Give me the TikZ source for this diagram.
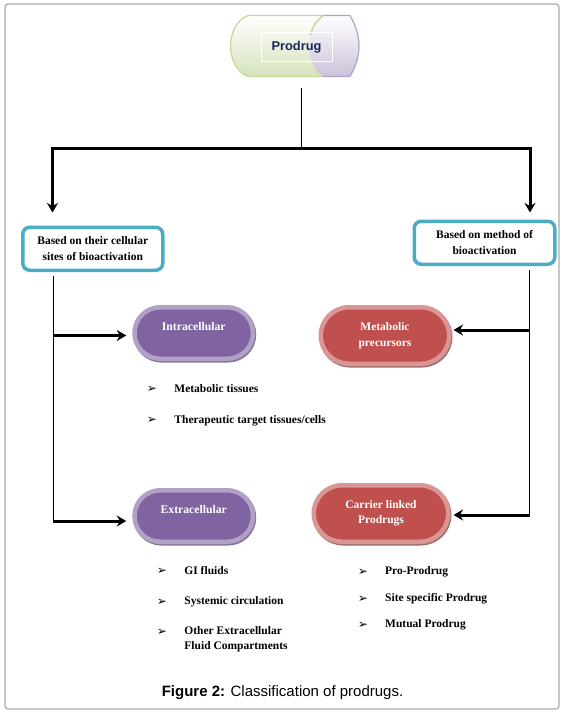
\documentclass[tikz,border=0pt]{standalone}
\usepackage{fontspec}
\setmainfont{Liberation Serif}
\newfontfamily\capfont{Liberation Sans}
\newfontfamily\dingfont{DejaVu Sans}
\usetikzlibrary{arrows.meta,positioning,shapes.misc,calc}
\definecolor{rxFrame}{RGB}{170,170,170}
\definecolor{rxTeal}{RGB}{75,172,198}
\definecolor{rxPurple}{RGB}{128,100,162}
\definecolor{rxPurpleEdge}{RGB}{178,161,199}
\definecolor{rxPurpleShade}{RGB}{134,118,150}
\definecolor{rxRed}{RGB}{192,80,77}
\definecolor{rxRedEdge}{RGB}{217,150,148}
\definecolor{rxRedShade}{RGB}{160,110,108}
\definecolor{rxGreen}{RGB}{214,227,188}
\definecolor{rxGreenEdge}{RGB}{195,214,155}
\definecolor{rxLilac}{RGB}{204,193,218}
\definecolor{rxLilacEdge}{RGB}{179,162,199}
\definecolor{rxNavy}{RGB}{27,35,94}

\begin{document}
\begin{tikzpicture}[
      x=1pt, y=-1pt,
      titlebox/.style={rectangle, draw=white, line width=1pt, minimum width=71pt,
        minimum height=29pt, inner sep=0pt, text=rxNavy,
        font=\capfont\fontsize{12.8}{14}\selectfont\bfseries},
      basebox/.style={rectangle, rounded corners=7pt, draw=rxTeal, line width=3.5pt,
        fill=white, align=center, inner sep=0pt, minimum height=43pt,
        font=\fontsize{11.5}{15.5}\selectfont\bfseries},
      purplebox/.style={rounded rectangle, draw=rxPurpleEdge, fill=rxPurple,
        line width=4.5pt, minimum width=118.5pt, minimum height=51.5pt, inner sep=0pt,
        align=center, text=white, font=\fontsize{11.7}{13.5}\selectfont\bfseries,
        preaction={draw=rxPurpleShade, transform canvas={shift={(1pt,-1.5pt)}}}},
      redbox/.style={rounded rectangle, draw=rxRedEdge, fill=rxRed,
        line width=4.5pt, minimum height=56.5pt, inner sep=0pt,
        align=center, text=white, font=\fontsize{11.5}{15.5}\selectfont\bfseries,
        preaction={draw=rxRedShade, transform canvas={shift={(1pt,-1.5pt)}}}},
      listitem/.style={align=left, inner sep=0pt,
        font=\fontsize{11.5}{15}\selectfont\bfseries},
      bullmark/.style={inner sep=0pt, label distance=17pt,
        font=\dingfont\fontsize{12}{12}\selectfont},
      arr/.style={-{Stealth[length=9.5pt, width=11pt]}, line width=3pt},
      thinline/.style={line width=0.8pt},
    ]
    % ---- Capsule at the top ----
    \shade[top color=white, bottom color=rxGreen, draw=rxGreenEdge, line width=1.2pt]
      (248,15.5) .. controls (236,20) and (230.5,34) .. (230.5,46)
      .. controls (230.5,58) and (236,72) .. (248,76.5) -- (326,76.5) -- (326,15.5) -- cycle;
    \shade[top color=white, bottom color=rxLilac]
      (323,15.5) .. controls (314,21) and (309,34) .. (309,46)
      .. controls (309,58) and (314,71) .. (323,76.5) -- (350,76.5)
      .. controls (356,66) and (359,56) .. (359,46)
      .. controls (359,36) and (356,26) .. (350,15.5) -- cycle;
    \draw[rxLilacEdge, line width=1.2pt] (323,76.5) -- (350,76.5)
      .. controls (356,66) and (359,56) .. (359,46)
      .. controls (359,36) and (356,26) .. (350,15.5) -- (323,15.5);
    \draw[rxGreenEdge, line width=1.4pt] (323,16) .. controls (316,20.5) and (312,28) .. (310.5,35);
    \node[titlebox] (prodrug) at (296.5,47.5) {Prodrug};

    % ---- Two classification boxes ----
    \node[basebox, minimum width=140pt, below left=163pt and 96pt of prodrug] (cellbox)
      {Based on their cellular\\ sites of bioactivation};
    \node[basebox, minimum width=140.5pt, below right=157pt and 80pt of prodrug] (methodbox)
      {Based on method of\\ bioactivation};

    % ---- Left branch ----
    \node[purplebox, below=33pt of cellbox, xshift=101pt] (intra) {Intracellular\\ \mbox{}};
    \node[listitem, label={[bullmark]left:➢}, below=28pt of intra.south west, xshift=14pt, anchor=west]
      (tissues) {Metabolic tissues};
    \node[listitem, label={[bullmark]left:➢}, below=31.5pt of tissues.west, anchor=west]
      (target) {Therapeutic target tissues/cells};
    \node[purplebox, below=127pt of intra] (extra) {Extracellular\\ \mbox{}};
    \node[listitem, label={[bullmark]left:➢}, below=27pt of extra.south west, xshift=24pt, anchor=west]
      (gifluid) {GI fluids};
    \node[listitem, label={[bullmark]left:➢}, below=31pt of gifluid.west, anchor=west]
      (systemic) {Systemic circulation};
    \node[listitem, label={[bullmark,yshift=7.5pt]left:➢}, below=37.5pt of systemic.west, anchor=west]
      (otherfl) {Other Extracellular\\ Fluid Compartments};

    % ---- Right branch ----
    \node[redbox, minimum width=128.5pt, below=39pt of methodbox, xshift=-99.5pt] (meta)
      {Metabolic\\ precursors};
    \node[redbox, minimum width=134.5pt, below=117pt of meta, xshift=-4pt] (carrier)
      {Carrier linked\\ Prodrugs};
    \node[listitem, label={[bullmark]left:➢}, below=28pt of carrier.south west, xshift=43pt, anchor=west]
      (proprod) {Pro-Prodrug};
    \node[listitem, label={[bullmark]left:➢}, below=27pt of proprod.west, anchor=west]
      (sitespec) {Site specific Prodrug};
    \node[listitem, label={[bullmark]left:➢}, below=26pt of sitespec.west, anchor=west]
      (mutual) {Mutual Prodrug};

    % ---- Caption ----
    \node[font=\capfont\fontsize{15}{16}\selectfont, inner sep=0pt] (caption) at (282.5,693)
      {\textbf{Figure 2:} Classification of prodrugs.};

    % ---- Connectors ----
    \coordinate (stem) at (301,88);
    \coordinate (barl) at (52.5,149);
    \coordinate (barr) at (530,149);
    \coordinate (cellend) at (53,276);
    \coordinate (methodend) at (529.5,270);
    \coordinate (intrajoin) at (53,335.5);
    \coordinate (extrajoin) at (53,521);
    \coordinate (metajoin) at (529.5,330);
    \coordinate (carrierjoin) at (529.5,515);

    \draw[thinline] (stem) -- (stem |- barl);
    \draw[line width=3pt, line cap=rect] (barl) -- (barr);
    \draw[arr, shorten >=13pt] (barl) -- (barl |- cellbox.north);
    \draw[arr, shorten >=7pt] (barr) -- (barr |- methodbox.north);
    \draw[thinline] (cellend) -- (extrajoin);
    \draw[thinline] (methodend) -- (carrierjoin);
    \draw[arr, shorten >=6pt] (intrajoin) -- (intrajoin -| intra.west);
    \draw[arr, shorten >=6pt] (extrajoin) -- (extrajoin -| extra.west);
    \draw[arr, shorten >=2pt] (metajoin) -- (metajoin -| meta.east);
    \draw[arr, shorten >=3pt] (carrierjoin) -- (carrierjoin -| carrier.east);

    \draw[rxFrame, line width=1.2pt, rounded corners=3pt] (5,4) rectangle (559,709);
    \useasboundingbox (0,0) rectangle (564,714);
  \end{tikzpicture}
\end{document}
